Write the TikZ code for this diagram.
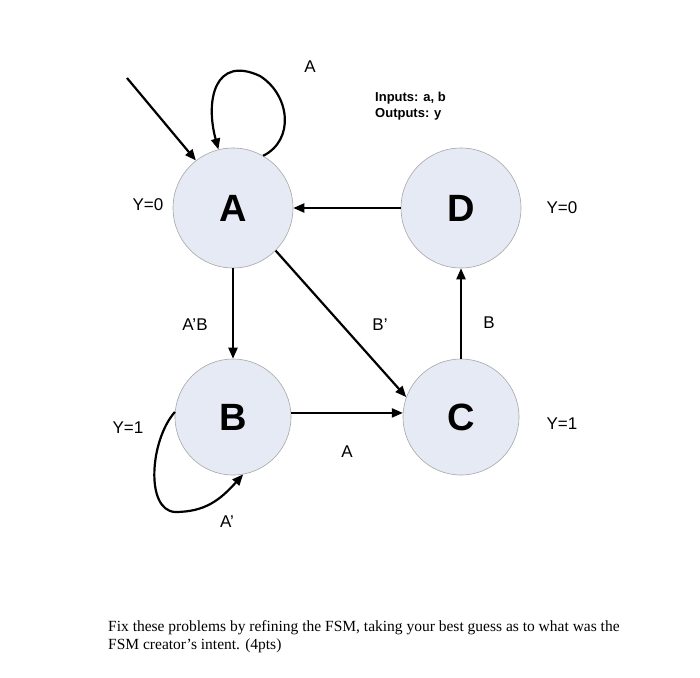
\documentclass[tikz,border=0pt]{standalone}
\usepackage{fontspec}
\setmainfont{Liberation Sans}
\newfontfamily\serifb{Liberation Serif}
\usetikzlibrary{arrows.meta}
\definecolor{stfill}{HTML}{E6EAF4}
\tikzset{
  st/.style={circle,draw=gray!70,fill=stfill,line width=0.6pt,minimum size=120pt,inner sep=0pt,font=\bfseries\fontsize{38}{42}\selectfont},
  stc/.style={st,minimum size=116pt},
  tr/.style={line width=2.2pt,-{Triangle[length=11pt,width=9pt]}},
  lbl/.style={font=\fontsize{17}{19}\selectfont},
}
\begin{document}
\begin{tikzpicture}[x=1pt,y=-1pt]
\useasboundingbox[fill=white] (0,0) rectangle (700,677);
\node[st] (A) at (233,208) {A};
\node[st] (D) at (461,208) {D};
\node[stc] (B) at (233,417) {B};
\node[stc] (C) at (461,417) {C};
\coordinate (s) at (127,78);
\draw[tr] (s) -- (A.128);
\draw[tr] (A.60) .. controls (295,140) and (290,95) .. (260,76) .. controls (215,55) and (205,100) .. (A.104);
\draw[tr] (A) -- (B);
\draw[tr] (A.-45) -- (C.160);
\draw[tr] (B.4) -- (C.176);
\draw[tr] (C) -- (D);
\draw[tr] (D) -- (A);
\draw[tr] (B.175) .. controls (150,440) and (145,510) .. (175,512) .. controls (205,512) and (220,500) .. (B.-80);
\node[lbl] (l1) at (310,67) {A};
\node[lbl] (l2) at (148,205) {Y=0};
\node[lbl] (l3) at (562,208) {Y=0};
\node[lbl] (l4) at (195,325) {A'B};
\node[lbl] (l5) at (380,325) {B'};
\node[lbl] (l6) at (489,323) {B};
\node[lbl] (l7) at (128,428) {Y=1};
\node[lbl] (l8) at (562,424) {Y=1};
\node[lbl] (l9) at (347,452) {A};
\node[lbl] (l10) at (227,522) {A'};
\node[anchor=north west,align=left,font=\bfseries\fontsize{13}{16}\selectfont,inner sep=0pt] (io) at (375,92) {Inputs: a, b\\Outputs: y};
\node[anchor=north west,align=left,font=\serifb\fontsize{15.5}{18}\selectfont,inner sep=0pt] (txt) at (108,620) {Fix these problems by refining the FSM, taking your best guess as to what was the\\FSM creator’s intent. (4pts)};
\end{tikzpicture}
\end{document}
